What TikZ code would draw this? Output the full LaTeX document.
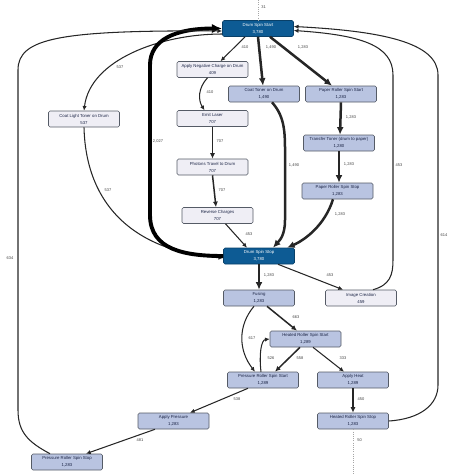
\documentclass[tikz,border=0pt]{standalone}
\usepackage{fontspec}
\setmainfont{Liberation Sans}
\usetikzlibrary{arrows.meta}
\definecolor{dblue}{HTML}{0D5B94}
\definecolor{lblue}{HTML}{B9C4E1}
\definecolor{vlight}{HTML}{EFEEF5}
\definecolor{edgec}{HTML}{262626}
\definecolor{bordc}{HTML}{555B66}
\definecolor{txtc}{HTML}{1B2445}
\tikzset{
  box/.style={rectangle, rounded corners=1.5pt, draw=bordc, line width=0.6pt,
    minimum width=71pt, minimum height=16pt, inner sep=0pt, align=center,
    font=\fontsize{4.3}{7}\selectfont, text=txtc},
  dark/.style={box, fill=dblue, text=white, draw=dblue!70!black},
  mid/.style={box, fill=lblue},
  pale/.style={box, fill=vlight},
  lbl/.style={font=\fontsize{4}{4.5}\selectfont, text=black!75, inner sep=0pt},
  edge/.style={draw=edgec, -{Latex[length=2.6pt 2,width=2.4pt 1.8]}},
  wa/.style={edge, line width=1.05pt},
  wb/.style={edge, line width=1.5pt},
  wc/.style={edge, line width=2.5pt},
  wd/.style={edge, line width=3.9pt, draw=black},
  dots/.style={draw=black!35, line width=0.7pt, dash pattern=on 1pt off 1.2pt}
}
\begin{document}
\begin{tikzpicture}[x=1pt,y=-1pt]
\useasboundingbox (0,0) rectangle (474,474);
% nodes
\node[dark] (dss) at (258,28.5) {Drum Spin Start\\3,780};
\node[pale] (anc) at (212.5,69.5) {Apply Negative Charge on Drum\\409};
\node[mid] (ctd) at (264,94) {Coat Toner on Drum\\1,490};
\node[mid] (prss) at (341,94) {Paper Roller Spin Start\\1,283};
\node[pale] (el) at (212.5,118.5) {Emit Laser\\707};
\node[pale] (cltd) at (84,119) {Coat Light Toner on Drum\\537};
\node[pale] (ptd) at (212.5,167) {Photons Travel to Drum\\707};
\node[pale] (rc) at (217.5,215.5) {Reverse Charges\\707};
\node[mid] (tt) at (339,143) {Transfer Toner (drum to paper)\\1,280};
\node[mid] (prsp) at (337.5,191) {Paper Roller Spin Stop\\1,283};
\node[dark] (dsp) at (259,256) {Drum Spin Stop\\3,780};
\node[mid] (fus) at (259,298) {Fusing\\1,283};
\node[pale] (ic) at (361,298) {Image Creation\\459};
\node[mid] (hrss) at (305.5,339) {Heated Roller Spin Start\\1,289};
\node[mid] (pss) at (263,380) {Pressure Roller Spin Start\\1,289};
\node[mid] (ah) at (353,380) {Apply Heat\\1,289};
\node[mid] (hrsp) at (353,421) {Heated Roller Spin Stop\\1,283};
\node[mid] (ap) at (173.5,421) {Apply Pressure\\1,283};
\node[mid] (pssp) at (67,462) {Pressure Roller Spin Stop\\1,283};
\coordinate (topin) at (258,0);
\coordinate (botout) at (353,474);
% dotted in/out
\draw[dots] (topin) -- (dss.north) node[lbl, anchor=west] (l31) at (261,7) {31};
\draw[dots] (hrsp.south) -- (botout) node[lbl, anchor=west] (l50) at (357,440) {50};
% edges from Drum Spin Start
\draw[wa] ([xshift=-13pt]dss.south) -- ([xshift=8pt]anc.north) node[lbl] (l410a) at (245,47) {410};
\draw[wc] (dss.south) -- ([xshift=-1pt]ctd.north) node[lbl] (l1490a) at (271,47) {1,490};
\draw[wc] ([xshift=12pt]dss.south) -- ([xshift=-9pt]prss.north) node[lbl] (l1283a) at (303,47) {1,283};
\draw[wa] ([yshift=-5.5pt]dss.west) .. controls (160,34) and (90,60) .. (cltd.north) node[lbl] (l537a) at (120,67) {537};
% left chain
\draw[wa] ([xshift=-5pt]anc.south) .. controls (198,88) and (198,100) .. ([xshift=-8pt]el.north) node[lbl] (l410b) at (210,92) {410};
\draw[wb] (el.south) -- (ptd.north) node[lbl] (l707a) at (220,141) {707};
\draw[wb] (ptd.south) -- ([xshift=-1.5pt]rc.north) node[lbl] (l707b) at (222,190) {707};
\draw[wa] ([xshift=8pt]rc.south) -- ([xshift=-12pt]dsp.north) node[lbl] (l453a) at (249,234) {453};
\draw[wa] (cltd.south) .. controls (86,210) and (140,252) .. ([yshift=-2pt]dsp.west) node[lbl] (l537b) at (108,190) {537};
% loop back 2,027
\draw[wd] (dsp.west) .. controls (185,256) and (150,250) .. (150,215) -- (150,65) .. controls (150,40) and (175,28.5) .. (dss.west) node[lbl] (l2027) at (158,141) {2,027};
% coat toner to stop
\draw[wc] ([xshift=8pt]ctd.south) .. controls (286,118) and (285,135) .. (285,160) -- (285,220) .. controls (285,235) and (280,240) .. ([xshift=14pt]dsp.north) node[lbl] (l1490b) at (294,165) {1,490};
% paper chain
\draw[wc] (prss.south) -- ([xshift=1pt]tt.north) node[lbl] (l1283b) at (351,117) {1,283};
\draw[wc] (tt.south) -- ([xshift=1.5pt]prsp.north) node[lbl] (l1283c) at (349,164) {1,283};
\draw[wc] ([xshift=-4.5pt]prsp.south) .. controls (325,225) and (305,240) .. ([xshift=28pt]dsp.north) node[lbl] (l1283d) at (340,214) {1,283};
% from drum spin stop
\draw[wc] (dsp.south) -- (fus.north) node[lbl] (l1283e) at (269,275) {1,283};
\draw[wa] ([xshift=19pt]dsp.south) -- ([xshift=-18pt]ic.north) node[lbl] (l453b) at (330,275) {453};
\draw[wa] ([xshift=12pt]ic.north) .. controls (390,285) and (393,275) .. (393,260) -- (393,75) .. controls (393,45) and (360,35) .. ([yshift=-2pt]dss.east) node[lbl] (l453c) at (399,165) {453};
% fusing section
\draw[wb] ([xshift=8pt]fus.south) -- ([xshift=-8.5pt]hrss.north) node[lbl] (l663) at (296,317) {663};
\draw[wa] ([xshift=-5pt]fus.south) .. controls (238,325) and (238,350) .. ([xshift=-8pt]pss.north) node[lbl] (l617) at (252,338) {617};
\draw[wa] ([xshift=-2pt]pss.north) .. controls (259,355) and (261,340) .. (hrss.west) node[lbl] (l526) at (271,358) {526};
\draw[wb] ([xshift=-5.5pt]hrss.south) -- ([xshift=12pt]pss.north) node[lbl] (l558) at (300,358) {558};
\draw[wa] ([xshift=7.5pt]hrss.south) -- ([xshift=-9pt]ah.north) node[lbl] (l333) at (343,358) {333};
\draw[wb] (ah.south) -- (hrsp.north) node[lbl] (l450) at (361,399) {450};
\draw[wa] (hrsp.east) .. controls (420,419) and (438,405) .. (438,385) -- (438,75) .. controls (438,42) and (380,31) .. ([yshift=2pt]dss.east) node[lbl] (l614) at (444,235) {614};
% pressure section
\draw[wa] ([xshift=-15pt]pss.south) -- ([xshift=16.5pt]ap.north) node[lbl] (l538) at (237,399) {538};
\draw[wa] ([xshift=-18.5pt]ap.south) -- ([xshift=19pt]pssp.north) node[lbl] (l481) at (140,440) {481};
\draw[wa] ([xshift=-17pt]pssp.north) .. controls (28,442) and (18,432) .. (18,410) -- (18,70) .. controls (18,38) and (60,30) .. ([yshift=-2.5pt]dss.west) node[lbl] (l634) at (10,258) {634};
\end{tikzpicture}
\end{document}
